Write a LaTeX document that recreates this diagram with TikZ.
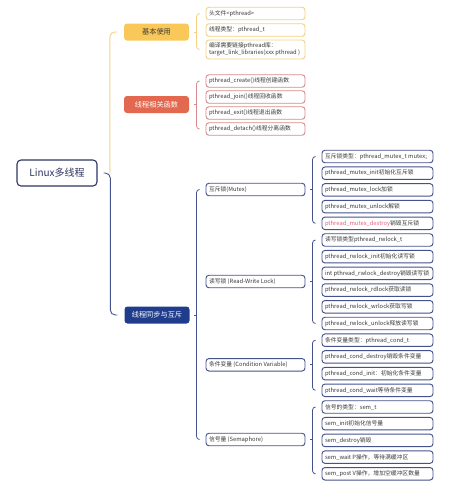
\documentclass[tikz,border=0pt]{standalone}
\usepackage{fontspec}
\setmainfont{Noto Sans CJK SC}
\usepackage{xcolor}
\usetikzlibrary{calc}

\definecolor{rootline}{HTML}{2E3563}
\definecolor{yellowfill}{HTML}{FAC858}
\definecolor{yellowline}{HTML}{F5D283}
\definecolor{redfill}{HTML}{E2684F}
\definecolor{redline}{HTML}{D98A8E}
\definecolor{navyfill}{HTML}{1F3D8C}
\definecolor{navyline}{HTML}{46528C}
\definecolor{leaftext}{HTML}{3A3A3A}
\definecolor{pinktext}{HTML}{E0607E}

% brace from a parent to a column of children
\newcommand{\bracelink}[4]{% colour, parent, first child, last child
  \draw[#1, line width=0.8pt, rounded corners=3pt]
    ([xshift=-6pt]#3.west) -- ([xshift=-9pt]#3.west) -- ([xshift=-9pt]#4.west) -- ([xshift=-6pt]#4.west);
  \draw[#1, line width=0.8pt] ([xshift=-9pt]#3.west |- #2.east) -- ++(-3,0);
}

\begin{document}
\begin{tikzpicture}[x=1pt, y=-1pt]

        % 1. Styles
        \tikzset{
          small/.style={font=\fontsize{5.8}{6.9}\selectfont, text=leaftext},
          rootbox/.style={draw=rootline, line width=1.1pt, rounded corners=4pt, fill=white,
            minimum width=80pt, minimum height=26pt, text=rootline, font=\fontsize{10}{12}\selectfont},
          branchbox/.style={rounded corners=3pt, minimum width=65pt, minimum height=17pt,
            font=\fontsize{7.2}{8.6}\selectfont},
          leafbox/.style={small, rounded corners=3pt, fill=white, line width=0.95pt,
            inner xsep=3pt, inner ysep=0pt, minimum height=12.5pt},
          yellowleaf/.style={leafbox, draw=yellowline},
          redleaf/.style={leafbox, draw=redline},
          navyleaf/.style={leafbox, draw=navyline}
        }
        \useasboundingbox (0,0) rectangle (474,483);

        % 2. Root and main branches
        \node[rootbox] (root) at (57,173) {Linux多线程};
        \node[branchbox, fill=yellowfill, text=leaftext] (basic) at (156.5,32) {基本使用};
        \node[branchbox, fill=redfill, text=white] (func) at (156.5,104.5) {线程相关函数};
        \node[branchbox, fill=navyfill, text=white] (sync) at (157,315) {线程同步与互斥};

        \draw[yellowline, line width=0.9pt, rounded corners=5pt]
          ([xshift=-7pt]basic.west) -- ([xshift=-14pt]basic.west) -- ([xshift=-14pt]basic.west |- root.east);
        \draw[navyline, line width=0.9pt, rounded corners=5pt]
          ([xshift=6pt]root.east) -- ([xshift=-14pt]sync.west |- root.east)
          -- ([xshift=-14pt]sync.west) -- ([xshift=-7pt]sync.west);

        % 3. Basic usage
        \node[yellowleaf] (bs0) at (255.5,13.5) {\makebox[93pt][l]{头文件<pthread>}};
        \node[yellowleaf] (bs1) at (255.5,30) {\makebox[93pt][l]{线程类型：pthread\_t}};
        \node[yellowleaf, minimum height=19pt] (bs2) at (255.5,49.5)
          {\parbox{93pt}{编译需要链接pthread库：\\target\_link\_libraries(xxx pthread )}};
        \bracelink{yellowline}{basic}{bs0}{bs2}

        % 4. Thread functions
        \foreach \txt [count=\i from 0] in {
            {pthread\_create()线程创建函数},
            {pthread\_join()线程回收函数},
            {pthread\_exit()线程退出函数},
            {pthread\_detach()线程分离函数}}
          \node[redleaf] (fn\i) at (255.5,{81+16*\i}) {\makebox[93pt][l]{\txt}};
        \bracelink{redline}{func}{fn0}{fn3}

        % 5. Synchronisation: second level
        \node[navyleaf] (mutex) at (255.5,189.5) {\makebox[93pt][l]{互斥锁(Mutex)}};
        \node[navyleaf] (rwlock) at (255.5,281.5) {\makebox[93pt][l]{读写锁 (Read-Write Lock)}};
        \node[navyleaf] (cond) at (255.5,364.8) {\makebox[93pt][l]{条件变量 (Condition Variable)}};
        \node[navyleaf] (sem) at (255.5,439.5) {\makebox[93pt][l]{信号量 (Semaphore)}};
        \bracelink{navyline}{sync}{mutex}{sem}

        % 6. Synchronisation: third level
        \foreach \txt [count=\i from 0] in {
            {互斥锁类型：pthread\_mutex\_t mutex;},
            {pthread\_mutex\_init初始化互斥锁},
            {pthread\_mutex\_lock加锁},
            {pthread\_mutex\_unlock解锁},
            {\textcolor{pinktext}{pthread\_mutex\_destroy}销毁互斥锁}}
          \node[navyleaf] (mx\i) at (377.5,{156.5+16.7*\i}) {\makebox[105pt][l]{\txt}};
        \bracelink{navyline}{mutex}{mx0}{mx4}

        \foreach \txt [count=\i from 0] in {
            {读写锁类型pthread\_rwlock\_t},
            {pthread\_rwlock\_init初始化读写锁},
            {int pthread\_rwlock\_destroy销毁读写锁},
            {pthread\_rwlock\_rdlock获取读锁},
            {pthread\_rwlock\_wrlock获取写锁},
            {pthread\_rwlock\_unlock释放读写锁}}
          \node[navyleaf] (rw\i) at (377.5,{156.5+16.7*(5+\i)}) {\makebox[105pt][l]{\txt}};
        \bracelink{navyline}{rwlock}{rw0}{rw5}

        \foreach \txt [count=\i from 0] in {
            {条件变量类型：pthread\_cond\_t},
            {pthread\_cond\_destroy销毁条件变量},
            {pthread\_cond\_init：初始化条件变量},
            {pthread\_cond\_wait等待条件变量}}
          \node[navyleaf] (cv\i) at (377.5,{156.5+16.7*(11+\i)}) {\makebox[105pt][l]{\txt}};
        \bracelink{navyline}{cond}{cv0}{cv3}

        \foreach \txt [count=\i from 0] in {
            {信号的类型：sem\_t},
            {sem\_init初始化信号量},
            {sem\_destroy销毁},
            {sem\_wait P操作，等待满缓冲区},
            {sem\_post V操作，增加空缓冲区数量}}
          \node[navyleaf] (sm\i) at (377.5,{156.5+16.7*(15+\i)}) {\makebox[105pt][l]{\txt}};
        \bracelink{navyline}{sem}{sm0}{sm4}

\end{tikzpicture}
\end{document}
